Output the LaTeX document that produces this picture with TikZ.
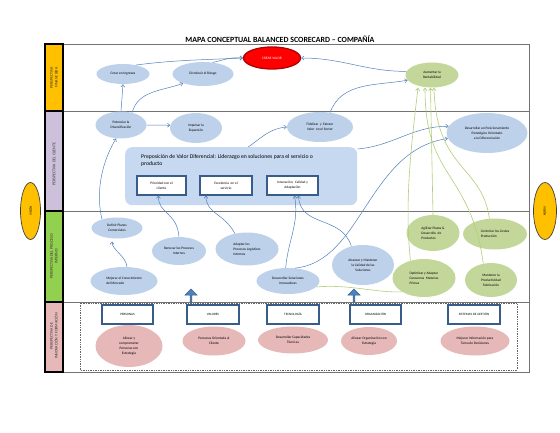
\documentclass[tikz,border=0pt]{standalone}
\usepackage{fontspec}
\setmainfont{Carlito}
\usetikzlibrary{shapes.geometric,shapes.arrows,arrows.meta}
\definecolor{eblue}{RGB}{190,209,234}
\definecolor{rblue}{RGB}{198,217,240}
\definecolor{egreen}{RGB}{196,215,155}
\definecolor{epink}{RGB}{230,184,183}
\definecolor{lblue}{RGB}{79,129,189}
\definecolor{bborder}{RGB}{56,93,138}
\definecolor{lgreen}{RGB}{178,206,120}
\definecolor{sfin}{RGB}{255,192,0}
\definecolor{scli}{RGB}{204,192,218}
\definecolor{sint}{RGB}{146,208,80}
\definecolor{sinn}{RGB}{230,184,183}
\newcommand{\tx}{\fontsize{3.5}{5}\selectfont}
\newcommand{\sx}{\fontsize{3.3}{4.4}\selectfont}
\newcommand{\lx}{\fontsize{4.0}{4.9}\selectfont}
\tikzset{
  bell/.style={ellipse, fill=eblue, inner sep=0pt, align=center, font=\tx},
  gell/.style={ellipse, fill=egreen, inner sep=0pt, align=center, font=\tx},
  pell/.style={ellipse, fill=epink, inner sep=0pt, align=center, font=\tx},
  wbox/.style={rectangle, draw=bborder, line width=1.1pt, fill=white, inner sep=0pt, align=center, font=\tx},
  stripbox/.style={draw=black, line width=1.5pt},
  striptext/.style={rotate=90, align=center, font=\lx, text=black!80, inner sep=0pt},
  bar/.style={draw=lblue, line width=0.5pt, -{Straight Barb[length=2.5pt,width=4pt]}},
  gar/.style={draw=lgreen, line width=0.6pt, -{Straight Barb[length=2.5pt,width=4pt]}},
  gline/.style={draw=lgreen, line width=0.6pt},
  barrow/.style={single arrow, shape border rotate=90, fill=lblue, draw=bborder, line width=0.5pt,
    minimum height=13pt, minimum width=12pt, single arrow head extend=1.5pt, inner sep=0pt},
  vis/.style={ellipse, fill=sfin, draw=black!75, line width=0.7pt, inner sep=0pt}
}
\begin{document}
\begin{tikzpicture}[x=1pt,y=-1pt]
\useasboundingbox (0,0) rectangle (560,433);
\fill[white] (0,0) rectangle (560,433);

% title
\node[font=\fontsize{7.9}{8.5}\selectfont\bfseries] (title) at (280,39.5) {MAPA CONCEPTUAL BALANCED SCORECARD – COMPAÑÍA};

% frame and row separators
\draw[black!55, line width=0.8pt] (63,44) rectangle (529,372);
\draw[black!55, line width=0.8pt] (63,111) -- (529,111);
\draw[black!55, line width=0.8pt] (63,211) -- (529,211);
\draw[black!55, line width=0.8pt] (63,302) -- (529,302);

% strips
\draw[stripbox, fill=sfin] (45,44) rectangle (63,111);
\draw[stripbox, fill=scli] (45,111) rectangle (63,211);
\draw[stripbox, fill=sint] (45,211) rectangle (63,302);
\draw[stripbox, fill=sinn] (45,302) rectangle (63,372);
\node[striptext] (lfin) at (54,77.5) {PERSPECTIVA\\FINANCIERA};
\node[striptext] (lcli) at (54,164) {PERSPECTIVA DEL CLIENTE};
\node[striptext] (lint) at (54,256.5) {PERSPECTIVA DEL PROCESO\\INTERNO};
\node[striptext] (linn) at (54,336) {PERSPECTIVA DE\\INNOVACIÓN Y FORMACIÓN};

% vision ellipses
\node[vis, minimum width=20pt, minimum height=57pt] (v1) at (30.5,211) {};
\node[rotate=90, font=\sx] (v1t) at (30.5,211) {VISIÓN};
\node[vis, minimum width=23pt, minimum height=57pt] (v2) at (545,211) {};
\node[rotate=-90, font=\sx] (v2t) at (545,211) {VISIÓN};

% financial row
\node[bell, minimum width=53pt, minimum height=20pt] (ci) at (123,74) {Crear en Ingresos};
\node[bell, minimum width=61pt, minimum height=24pt] (dr) at (203,74) {Disminuir el Riesgo};
\node[ellipse, fill=red, draw=red!70!black, line width=1.3pt, minimum width=57pt, minimum height=22pt,
      inner sep=0pt, text=white, font=\tx] (cv) at (272,58) {CREAR VALOR};
\node[gell, minimum width=53pt, minimum height=25pt] (ar) at (432,75) {Aumentar la\\Rentabilidad};

% customer row
\node[bell, minimum width=51pt, minimum height=27pt] (pd) at (121,125) {Potenciar la\\Diversificación};
\node[bell, minimum width=52pt, minimum height=30pt] (ie) at (196,128) {Impulsar la\\Expansión};
\node[bell, minimum width=66pt, minimum height=30pt] (fv) at (320,127) {Fidelizar \ y \ Extraer\\Valor \ en el Sector};
\node[bell, minimum width=81pt, minimum height=40pt] (dp) at (487,133) {Desarrollar un Posicionamiento\\Estratégico Orientado\\a la Diferenciación};
\node[rectangle, rounded corners=7pt, fill=rblue, minimum width=232pt, minimum height=58pt, anchor=north west, inner sep=0pt] (pv) at (125,147) {};
\node[anchor=north west, align=left, font=\fontsize{5.7}{7.4}\selectfont, inner sep=0pt] (pvt) at (141,154)
  {Preposición de Valor Diferencial: Liderazgo en soluciones para el servicio o\\producto};
\node[wbox, minimum width=49pt, minimum height=19pt] (b1) at (161.5,185.5) {Prioridad con el\\cliente};
\node[wbox, minimum width=52pt, minimum height=19pt] (b2) at (226,185.5) {Excelencia \ en el\\servicio};
\node[wbox, minimum width=51pt, minimum height=19pt] (b3) at (292.5,185.5) {Innovación, \ Calidad y\\Adaptación};

% internal process row
\node[bell, minimum width=51pt, minimum height=21pt] (dpc) at (117,228) {Definir Planes\\Comerciales};
\node[bell, minimum width=67pt, minimum height=28pt, align=left] (mc) at (124,281) {Mejorar el Conocimiento\\del Mercado};
\node[bell, minimum width=54pt, minimum height=28pt] (rp) at (179,251) {Renovar los Procesos\\Internos};
\node[bell, minimum width=63pt, minimum height=33pt, align=left] (al) at (247,249) {Adaptar los\\Procesos Logísticos\\Internos};
\node[bell, minimum width=63pt, minimum height=26pt] (ds) at (288,281) {Desarrollar Soluciones\\Innovadoras};
\node[bell, minimum width=62pt, minimum height=40pt] (am) at (363,265) {Alcanzar y Mantener\\la Calidad de las\\Soluciones};
\node[gell, minimum width=53pt, minimum height=36pt, align=left] (ag) at (433,233) {Agilizar Plazos \&\\Desarrollo \ de\\Productos};
\node[gell, minimum width=64pt, minimum height=31pt, align=left] (cc) at (495,234) {Controlar los Costes\\Producción};
\node[gell, minimum width=63pt, minimum height=38pt, align=left] (oa) at (424,278) {Optimizar y Adaptar\\Consumos \ Materias\\Primas};
\node[gell, minimum width=52pt, minimum height=34pt] (mp) at (491,280) {Mantener la\\Productividad\\Fabricación};

% learning row
\draw[black!60, line width=0.7pt, densely dotted] (80,303) rectangle (517,370);
\node[wbox, minimum width=51pt, minimum height=19pt, font=\sx] (p1) at (127.5,314.5) {PERSONAS};
\node[wbox, minimum width=52pt, minimum height=19pt, font=\sx] (p2) at (213,314.5) {VALORES};
\node[wbox, minimum width=52pt, minimum height=19pt, font=\sx] (p3) at (293,314.5) {TECNOLOGÍA};
\node[wbox, minimum width=51pt, minimum height=19pt, font=\sx] (p4) at (375.5,314.5) {ORGANIZACIÓN};
\node[wbox, minimum width=52pt, minimum height=19pt, font=\sx] (p5) at (474,314.5) {SISTEMAS DE GESTIÓN};
\node[pell, minimum width=67pt, minimum height=42pt] (e1) at (129,346) {Alinear y\\comprometer\\Personas con\\Estrategia};
\node[pell, minimum width=63pt, minimum height=29pt] (e2) at (214,341) {Personas Orientada al\\Cliente};
\node[pell, minimum width=70pt, minimum height=27pt] (e3) at (293,340) {Desarrollar Capacidades\\Técnicas};
\node[pell, minimum width=56pt, minimum height=28pt] (e4) at (369,341) {Alinear Organización con\\Estrategia};
\node[pell, minimum width=69pt, minimum height=29pt] (e5) at (475,341) {Mejorar Información para\\Toma de Decisiones};

% block arrows
\node[barrow] (ba1) at (191,296) {};
\node[barrow] (ba2) at (354,296) {};

% blue connectors
\draw[bar] (ci.35) .. controls (175,60) and (200,60) .. (cv.west);
\draw[bar] (dr.50) .. controls (225,60) and (228,57) .. (cv.west);
\draw[bar] (ar.172) to[out=180,in=0] (cv.east);
\draw[bar] (fv.55) to[out=70,in=190] (ar.192);
\draw[bar] (pd.north) -- (ci.south);
\draw[bar] (pd.48) to[out=75,in=200] (dr.205);
\draw[bar] (pd.east) -- (ie.174);
\draw[bar] ([xshift=7pt]pv.north) to[out=35,in=185] (fv.west);
\draw[bar] ([yshift=-2pt]pv.north east) to[out=5,in=180] (dp.170);
\draw[bar] (ds.62) .. controls (362,262) and (368,150) .. (dp.188);
\draw[bar] (ds.100) to[out=85,in=-80] ([xshift=2pt]b3.south);
\draw[bar] (am.122) .. controls (342,215) and (300,228) .. ([xshift=6pt]b3.south);
\draw[bar] (rp.north) .. controls (177,212) and (158,214) .. ([xshift=-3pt]b1.south);
\draw[bar] (al.128) .. controls (224,213) and (206,214) .. ([xshift=-20pt]b2.south);
\draw[bar] (dpc.150) .. controls (95,190) and (103,160) .. (pd.250);
\draw[bar, shorten >=3pt] (mc.78) .. controls (126,256) and (112,250) .. (dpc.-115);

% green connectors
\draw[gar] (oa.128) .. controls (404,200) and (412,140) .. ([xshift=-14pt]ar.south);
\draw[gar] (ag.north) -- ([xshift=-1.5pt]ar.south);
\draw[gar] (mp.115) .. controls (470,170) and (425,180) .. ([xshift=-7pt]ar.south);
\draw[gar] (cc.110) .. controls (482,165) and (436,170) .. ([xshift=2pt]ar.south);
\draw[gline] (ds.-12) .. controls (350,284) and (375,293) .. (oa.212);
\end{tikzpicture}
\end{document}
